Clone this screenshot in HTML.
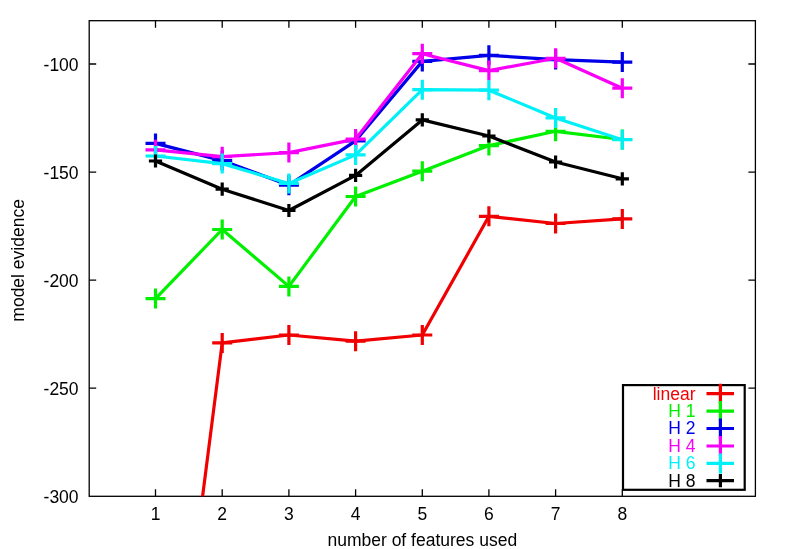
<!DOCTYPE html>
<html><head><meta charset="utf-8"><title>model evidence</title>
<style>html,body{margin:0;padding:0;background:#fff}svg{display:block}text{font-family:"Liberation Sans",Arial,Helvetica,sans-serif;font-size:17.5px}</style></head>
<body>
<svg width="785" height="549" viewBox="0 0 785 549">
<rect width="785" height="549" fill="#fff"/>
<g stroke="#000" stroke-width="1.3" fill="none">
<rect x="89.2" y="20.7" width="666.2" height="475.6"/>
<path d="M155.5 496.3 v-7 M155.5 20.7 v7"/>
<path d="M222.2 496.3 v-7 M222.2 20.7 v7"/>
<path d="M288.9 496.3 v-7 M288.9 20.7 v7"/>
<path d="M355.6 496.3 v-7 M355.6 20.7 v7"/>
<path d="M422.3 496.3 v-7 M422.3 20.7 v7"/>
<path d="M488.9 496.3 v-7 M488.9 20.7 v7"/>
<path d="M555.6 496.3 v-7 M555.6 20.7 v7"/>
<path d="M622.3 496.3 v-7 M622.3 20.7 v7"/>
<path d="M89.2 64.0 h7 M755.4 64.0 h-7"/>
<path d="M89.2 172.1 h7 M755.4 172.1 h-7"/>
<path d="M89.2 280.2 h7 M755.4 280.2 h-7"/>
<path d="M89.2 388.2 h7 M755.4 388.2 h-7"/>
</g>
<g fill="#000">
<text x="78.6" y="70.7" text-anchor="end">-100</text>
<text x="78.6" y="178.8" text-anchor="end">-150</text>
<text x="78.6" y="286.9" text-anchor="end">-200</text>
<text x="78.6" y="394.9" text-anchor="end">-250</text>
<text x="78.6" y="503.0" text-anchor="end">-300</text>
<text x="155.5" y="520" text-anchor="middle">1</text>
<text x="222.2" y="520" text-anchor="middle">2</text>
<text x="288.9" y="520" text-anchor="middle">3</text>
<text x="355.6" y="520" text-anchor="middle">4</text>
<text x="422.3" y="520" text-anchor="middle">5</text>
<text x="488.9" y="520" text-anchor="middle">6</text>
<text x="555.6" y="520" text-anchor="middle">7</text>
<text x="622.3" y="520" text-anchor="middle">8</text>
<text x="422.3" y="545.5" text-anchor="middle">number of features used</text>
<text transform="translate(24.1,260.4) rotate(-90)" text-anchor="middle">model evidence</text>
</g>
<defs><clipPath id="c"><rect x="89.2" y="20.7" width="666.2" height="475.6"/></clipPath></defs>
<rect x="623" y="385.1" width="121.7" height="104.7" fill="none" stroke="#000" stroke-width="2.2"/>
<g stroke="#f00000" stroke-width="3.2" fill="none" stroke-linejoin="round">
<path clip-path="url(#c)" d="M155.5 864.9 L222.2 342.9 L288.9 335.0 L355.6 341.2 L422.3 335.0 L488.9 216.3 L555.6 223.5 L622.3 218.9"/>
<path d="M212.2 342.9 h20 M222.2 332.9 v20 M278.9 335.0 h20 M288.9 325.0 v20 M345.6 341.2 h20 M355.6 331.2 v20 M412.3 335.0 h20 M422.3 325.0 v20 M478.9 216.3 h20 M488.9 206.3 v20 M545.6 223.5 h20 M555.6 213.5 v20 M612.3 218.9 h20 M622.3 208.9 v20 M706.5 393.7 H734 M710.4 393.7 h20 M720.4 383.7 v20"/>
</g>
<text x="695.5" y="399.6" text-anchor="end" fill="#f00000">linear</text>
<g stroke="#00f000" stroke-width="3.2" fill="none" stroke-linejoin="round">
<path clip-path="url(#c)" d="M155.5 298.6 L222.2 229.5 L288.9 286.4 L355.6 196.5 L422.3 171.2 L488.9 145.6 L555.6 131.3 L622.3 139.5"/>
<path d="M145.5 298.6 h20 M155.5 288.6 v20 M212.2 229.5 h20 M222.2 219.5 v20 M278.9 286.4 h20 M288.9 276.4 v20 M345.6 196.5 h20 M355.6 186.5 v20 M412.3 171.2 h20 M422.3 161.2 v20 M478.9 145.6 h20 M488.9 135.6 v20 M545.6 131.3 h20 M555.6 121.3 v20 M612.3 139.5 h20 M622.3 129.5 v20 M706.5 411.1 H734 M710.4 411.1 h20 M720.4 401.1 v20"/>
</g>
<text x="695.5" y="417.0" text-anchor="end" fill="#00f000">H 1</text>
<g stroke="#0000e8" stroke-width="3.2" fill="none" stroke-linejoin="round">
<path clip-path="url(#c)" d="M155.5 143.4 L222.2 160.6 L288.9 185.2 L355.6 140.8 L422.3 61.4 L488.9 55.3 L555.6 59.6 L622.3 62.1"/>
<path d="M145.5 143.4 h20 M155.5 133.4 v20 M212.2 160.6 h20 M222.2 150.6 v20 M278.9 185.2 h20 M288.9 175.2 v20 M345.6 140.8 h20 M355.6 130.8 v20 M412.3 61.4 h20 M422.3 51.4 v20 M478.9 55.3 h20 M488.9 45.3 v20 M545.6 59.6 h20 M555.6 49.6 v20 M612.3 62.1 h20 M622.3 52.1 v20 M706.5 428.5 H734 M710.4 428.5 h20 M720.4 418.5 v20"/>
</g>
<text x="695.5" y="434.4" text-anchor="end" fill="#0000e8">H 2</text>
<g stroke="#f800f8" stroke-width="3.2" fill="none" stroke-linejoin="round">
<path clip-path="url(#c)" d="M155.5 149.8 L222.2 156.7 L288.9 152.6 L355.6 139.1 L422.3 53.7 L488.9 70.6 L555.6 58.3 L622.3 88.2"/>
<path d="M145.5 149.8 h20 M155.5 139.8 v20 M212.2 156.7 h20 M222.2 146.7 v20 M278.9 152.6 h20 M288.9 142.6 v20 M345.6 139.1 h20 M355.6 129.1 v20 M412.3 53.7 h20 M422.3 43.7 v20 M478.9 70.6 h20 M488.9 60.6 v20 M545.6 58.3 h20 M555.6 48.3 v20 M612.3 88.2 h20 M622.3 78.2 v20 M706.5 446.0 H734 M710.4 446.0 h20 M720.4 436.0 v20"/>
</g>
<text x="695.5" y="451.9" text-anchor="end" fill="#f800f8">H 4</text>
<g stroke="#00f0f8" stroke-width="3.2" fill="none" stroke-linejoin="round">
<path clip-path="url(#c)" d="M155.5 156.0 L222.2 163.6 L288.9 183.5 L355.6 154.9 L422.3 89.7 L488.9 90.2 L555.6 117.9 L622.3 139.7"/>
<path d="M145.5 156.0 h20 M155.5 146.0 v20 M212.2 163.6 h20 M222.2 153.6 v20 M278.9 183.5 h20 M288.9 173.5 v20 M345.6 154.9 h20 M355.6 144.9 v20 M412.3 89.7 h20 M422.3 79.7 v20 M478.9 90.2 h20 M488.9 80.2 v20 M545.6 117.9 h20 M555.6 107.9 v20 M612.3 139.7 h20 M622.3 129.7 v20 M706.5 463.4 H734 M710.4 463.4 h20 M720.4 453.4 v20"/>
</g>
<text x="695.5" y="469.3" text-anchor="end" fill="#00f0f8">H 6</text>
<g stroke="#000000" stroke-width="3.2" fill="none" stroke-linejoin="round">
<path clip-path="url(#c)" d="M155.5 161.0 L222.2 189.2 L288.9 210.5 L355.6 175.4 L422.3 119.9 L488.9 136.0 L555.6 162.0 L622.3 178.8"/>
<path d="M148.9 161.0 h13.2 M155.5 154.4 v13.2 M215.6 189.2 h13.2 M222.2 182.6 v13.2 M282.3 210.5 h13.2 M288.9 203.9 v13.2 M349.0 175.4 h13.2 M355.6 168.8 v13.2 M415.7 119.9 h13.2 M422.3 113.3 v13.2 M482.3 136.0 h13.2 M488.9 129.4 v13.2 M549.0 162.0 h13.2 M555.6 155.4 v13.2 M615.7 178.8 h13.2 M622.3 172.2 v13.2 M706.5 480.7 H734 M713.8 480.7 h13.2 M720.4 474.1 v13.2"/>
</g>
<text x="695.5" y="486.6" text-anchor="end" fill="#000000">H 8</text>
</svg>
</body></html>
